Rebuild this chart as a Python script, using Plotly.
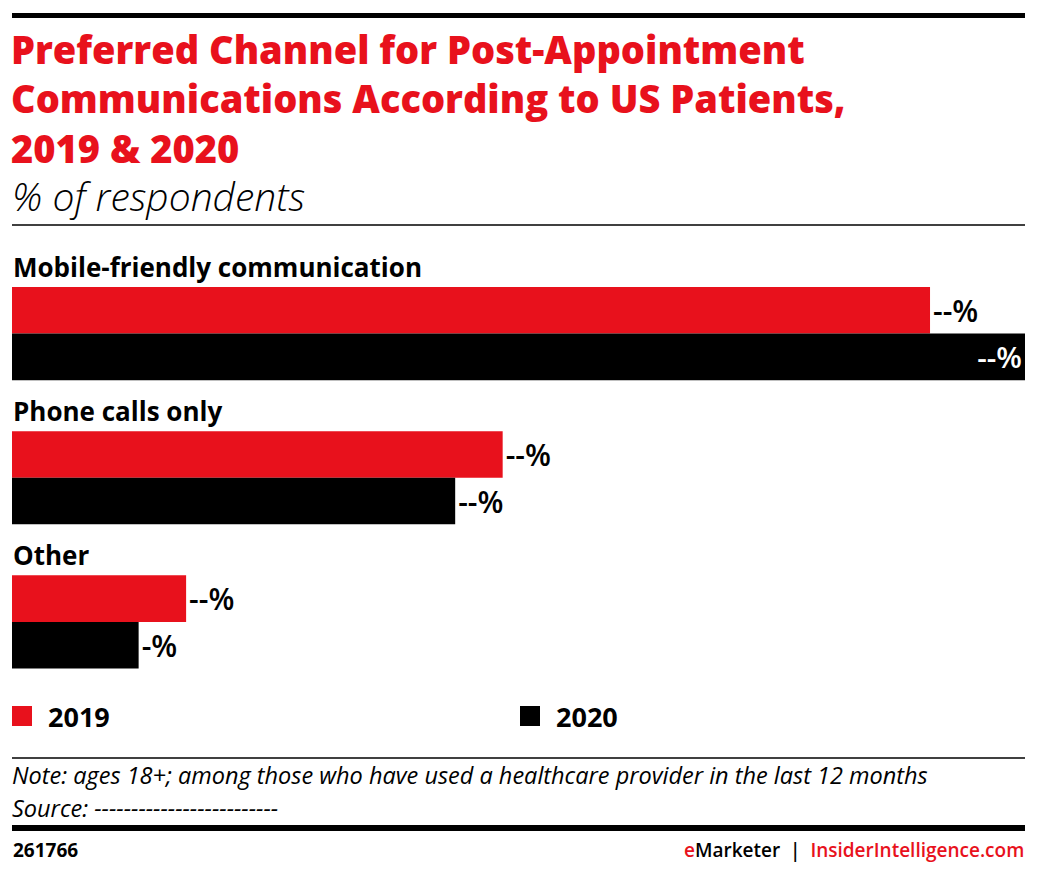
import plotly.graph_objects as go

W, H = 1038, 874

categories = ["Mobile-friendly communication", "Phone calls only", "Other"]
values_2019 = [58, 31, 11]
values_2020 = [64, 28, 8]
labels_2019 = ["--%", "--%", "--%"]
labels_2020 = ["--%", "--%", "-%"]
series_names = ["2019", "2020"]

RED = "#E8111C"
BLACK = "#000000"
FONT = "Open Sans"


def py(p):
    return 1 - p / H


def px(p):
    return p / W


fig = go.Figure()
fig.add_trace(go.Bar(
    y=categories, x=values_2019, orientation="h", name=series_names[0],
    marker=dict(color=RED, line=dict(width=0)),
    text=labels_2019, textposition="outside",
    textfont=dict(family=FONT, size=30, color="#000", weight=600),
    cliponaxis=False, showlegend=False,
))
fig.add_trace(go.Bar(
    y=categories, x=values_2020, orientation="h", name=series_names[1],
    marker=dict(color=BLACK, line=dict(width=0)),
    text=labels_2020,
    textposition=["inside", "outside", "outside"],
    insidetextanchor="end",
    textfont=dict(family=FONT, size=30, color=["#fff", "#000", "#000"], weight=600),
    cliponaxis=False, showlegend=False,
))

annotations = []
# category labels
for c in categories:
    annotations.append(dict(
        x=px(11), xref="paper", y=c, yref="y", yshift=67, xanchor="left",
        yanchor="middle", text=c, showarrow=False,
        font=dict(family=FONT, size=26, color="#000", weight="bold"),
    ))

# title
annotations.append(dict(
    x=px(9), y=py(21), xref="paper", yref="paper", xanchor="left", yanchor="top",
    align="left", showarrow=False,
    text="Preferred Channel for Post-Appointment<br>Communications According to US Patients,<br>2019 &amp; 2020",
    font=dict(family=FONT, size=38, color=RED, weight=800),
))
annotations.append(dict(
    x=px(10), y=py(195), xref="paper", yref="paper", xanchor="left", yanchor="middle",
    showarrow=False, text="<i>% of respondents</i>",
    font=dict(family=FONT, size=39, color="#000", weight=300),
))
# legend
for name, col, x0 in [(series_names[0], RED, 12), (series_names[1], BLACK, 520)]:
    annotations.append(dict(
        x=px(x0 + 34), y=py(716), xref="paper", yref="paper", xanchor="left",
        yanchor="middle", showarrow=False, text=name,
        font=dict(family=FONT, size=27, color="#000", weight="bold"),
    ))
# notes
annotations.append(dict(
    x=px(10), y=py(775), xref="paper", yref="paper", xanchor="left", yanchor="middle",
    align="left", showarrow=False,
    text="<i>Note: ages 18+; among those who have used a healthcare provider in the last 12 months</i>",
    font=dict(family=FONT, size=23.5, color="#000"),
))
annotations.append(dict(
    x=px(10), y=py(808), xref="paper", yref="paper", xanchor="left", yanchor="middle",
    align="left", showarrow=False,
    text="<i>Source: -------------------------</i>",
    font=dict(family=FONT, size=23.5, color="#000"),
))
annotations.append(dict(
    x=px(11), y=py(850), xref="paper", yref="paper", xanchor="left", yanchor="middle",
    showarrow=False, text="261766",
    font=dict(family=FONT, size=19, color="#000", weight="bold"),
))
annotations.append(dict(
    x=px(1026), y=py(850), xref="paper", yref="paper", xanchor="right", yanchor="middle",
    showarrow=False,
    text=f"<span style='color:{RED}'>e</span>Marketer  |  <span style='color:{RED}'>InsiderIntelligence.com</span>",
    font=dict(family=FONT, size=19, color="#000", weight=600),
))

shapes = [
    dict(type="rect", xref="paper", yref="paper", x0=px(12), x1=px(1025), y0=py(13), y1=py(18),
         fillcolor="#000", line=dict(width=0)),
    dict(type="line", xref="paper", yref="paper", x0=px(12), x1=px(1025), y0=py(225), y1=py(225),
         line=dict(color="#000", width=1.5)),
    dict(type="line", xref="paper", yref="paper", x0=px(12), x1=px(1025), y0=py(758), y1=py(758),
         line=dict(color="#000", width=1.5)),
    dict(type="rect", xref="paper", yref="paper", x0=px(12), x1=px(1025), y0=py(825), y1=py(831),
         fillcolor="#000", line=dict(width=0)),
    dict(type="rect", xref="paper", yref="paper", x0=px(12), x1=px(32), y0=py(706), y1=py(726),
         fillcolor=RED, line=dict(width=0)),
    dict(type="rect", xref="paper", yref="paper", x0=px(520), x1=px(540), y0=py(706), y1=py(726),
         fillcolor=BLACK, line=dict(width=0)),
]

fig.update_layout(
    width=W, height=H, margin=dict(l=0, r=0, t=0, b=0),
    paper_bgcolor="#fff", plot_bgcolor="#fff",
    barmode="group", bargap=0.354, bargroupgap=0,
    xaxis=dict(domain=[px(12), px(1025)], range=[0, 64], visible=False, fixedrange=True),
    yaxis=dict(domain=[py(694), py(261.5)], range=[2.5, -0.5], visible=False,
               categoryorder="array", categoryarray=categories),
    annotations=annotations, shapes=shapes, showlegend=False,
    uniformtext=dict(mode=False),
)

fig.write_html("out.html")
